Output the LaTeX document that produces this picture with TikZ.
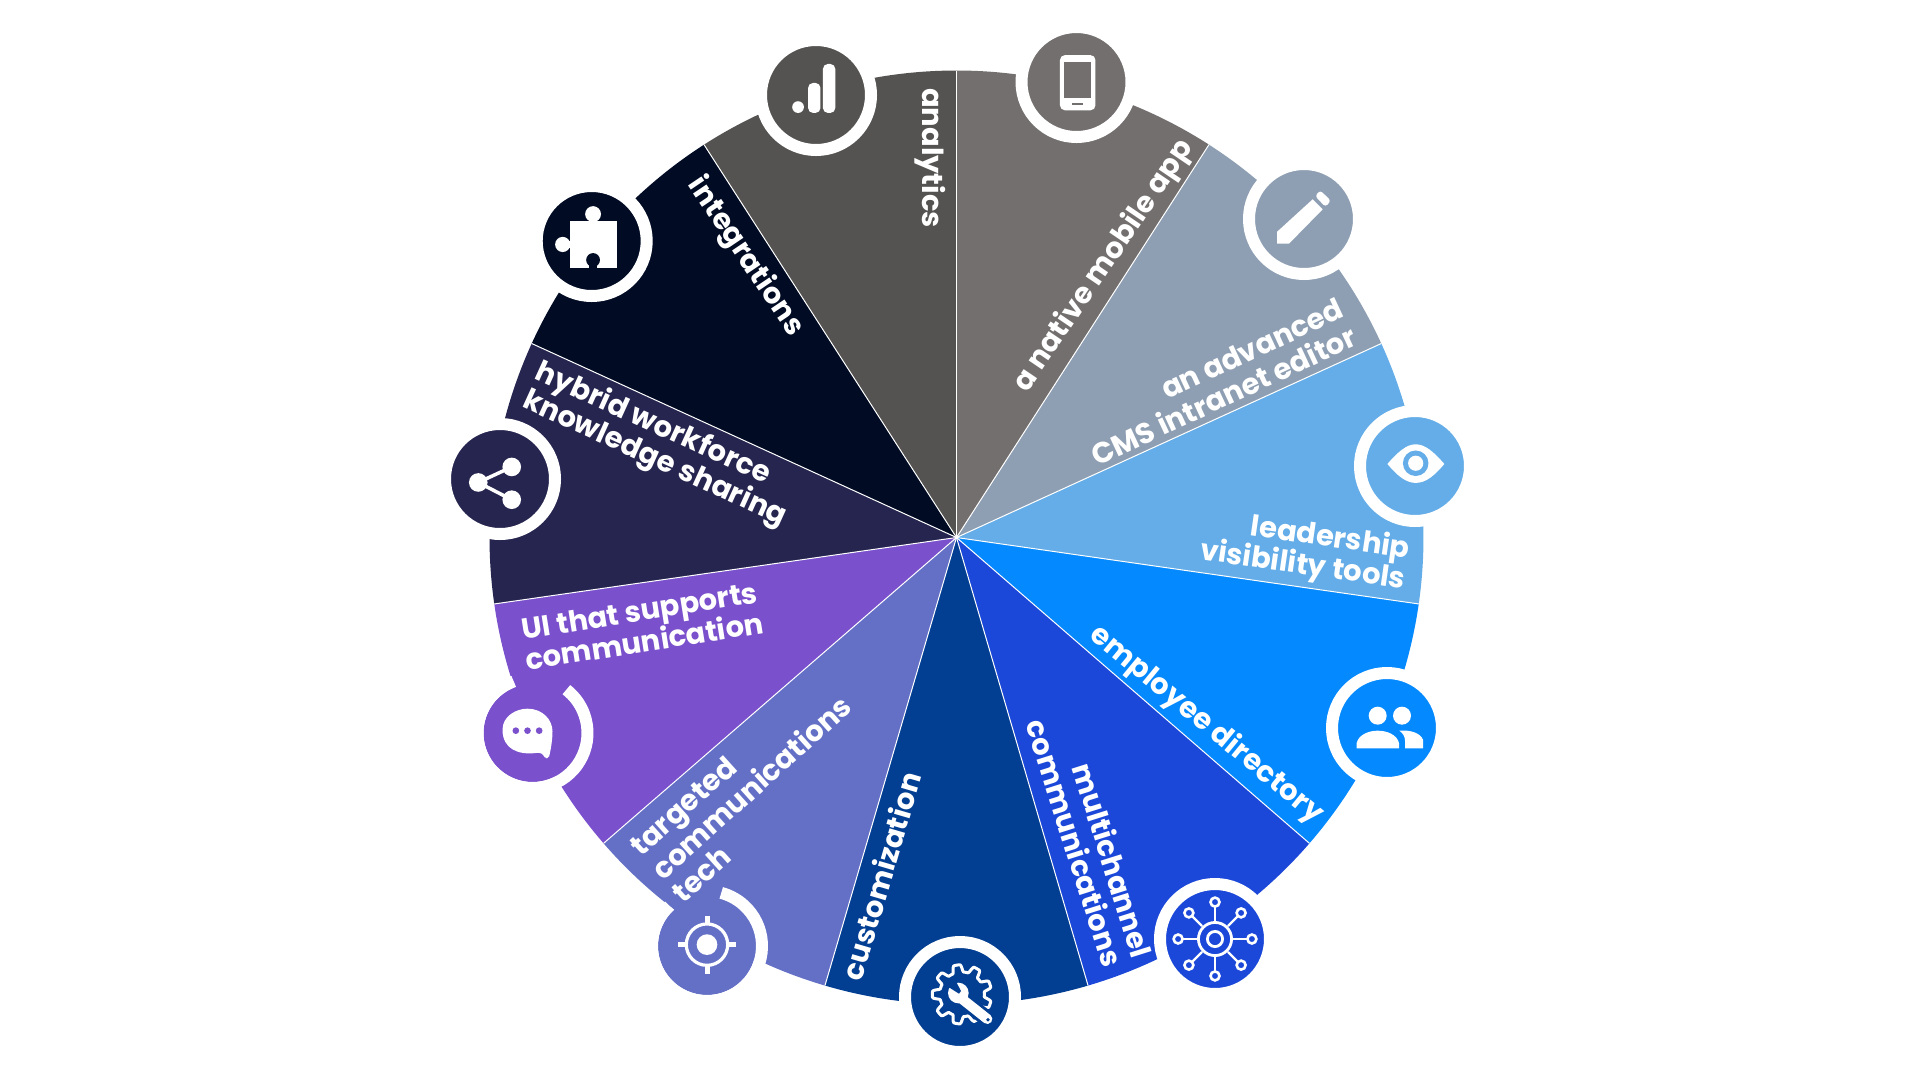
\documentclass[tikz,border=0pt]{standalone}
\usepackage{fontspec}
\setmainfont{Poppins}
\definecolor{cNat}{HTML}{736F6E}
\definecolor{cAdv}{HTML}{8F9FB3}
\definecolor{cLea}{HTML}{64ADE8}
\definecolor{cEmp}{HTML}{0589FF}
\definecolor{cMul}{HTML}{1B48D9}
\definecolor{cCus}{HTML}{023E92}
\definecolor{cTar}{HTML}{6370C6}
\definecolor{cUIi}{HTML}{7A50CC}
\definecolor{cHyb}{HTML}{26254F}
\definecolor{cInt}{HTML}{010B24}
\definecolor{cAna}{HTML}{545351}
\tikzset{
  lbl/.style={text=white,inner sep=0pt,font=\fontsize{29}{31}\selectfont\bfseries},
  ringed/.style={circle,draw=white,line width=12pt,minimum size=110pt,inner sep=0pt,fill=#1},
  plain/.style={circle,minimum size=98pt,inner sep=0pt,fill=#1},
  seam/.style={white,line width=1pt},
  ringarc/.style={white,line width=12pt},
  zA/.style={x=.345pt,y=-.345pt},
  zB/.style={x=.3333pt,y=-.3333pt}
}
\begin{document}
\begin{tikzpicture}[x=1pt,y=1pt]
\useasboundingbox (0,0) rectangle (1920,-1080);
\fill[white] (0,0) rectangle (1920,-1080);
\coordinate (wc) at (956.5,-537.5);
\def\stp{32.72727}
\foreach \i/\c in {0/cNat,1/cAdv,2/cLea,3/cEmp,4/cMul,5/cCus,6/cTar,7/cUIi,8/cHyb,9/cInt,10/cAna}{
  \pgfmathsetmacro{\aa}{90-\i*\stp}
  \pgfmathsetmacro{\bb}{90-(\i+1)*\stp}
  \fill[\c] (wc) -- ++(\aa:467) arc[start angle=\aa,end angle=\bb,radius=467pt] -- cycle;
}
\foreach \i in {0,...,10}{
  \pgfmathsetmacro{\aa}{90-\i*\stp}
  \draw[seam] (wc) -- ++(\aa:467);
}
% icon discs
\node[ringed=cNat] (iNat) at (1076.5,-82) {};
\node[ringed=cAdv] (iAdv) at (1304,-219) {};
\node[ringed=cLea] (iLea) at (1415,-466) {};
\node[ringed=cEmp] (iEmp) at (1387,-728) {};
\node[ringed=cMul] (iMul) at (1215,-939) {};
\node[ringed=cCus] (iCus) at (960,-997) {};
\node[ringed=cAna] (iAna) at (816,-95) {};
\node[ringed=cInt] (iInt) at (591.7,-241) {};
\node[ringed=cHyb] (iHyb) at (500,-479) {};
\node[plain=cTar] (iTar) at (707,-946) {};
\node[plain=cUIi] (iUIi) at (532.5,-733) {};
\draw[ringarc] (iUIi.center) ++(110:55) arc[start angle=110,end angle=412,radius=55pt];
\draw[ringarc] (iTar.center) ++(133:55) arc[start angle=133,end angle=435,radius=55pt];
% phone
\begin{scope}[shift={(iNat.center)},zA]
  \fill[white,rounded corners=5pt] (-48,-78) rectangle (55,82);
  \fill[cNat] (-36,-57) rectangle (43,45);
  \fill[cNat] (-13,60) rectangle (20,67);
\end{scope}
% pencil
\begin{scope}[shift={(iAdv.center)},zA]
  \fill[white] (-78,37) -- (25,-57) -- (54,-28) -- (-43,71) -- (-78,71) -- cycle;
  \fill[white,rounded corners=3pt] (32,-67) -- (47,-83) -- (78,-53) -- (62,-35) -- cycle;
\end{scope}
% eye
\begin{scope}[shift={(iLea.center)},zA]
  \fill[white] (-80,-6) .. controls (-50,-40) and (-25,-63) .. (2,-63) .. controls (30,-63) and (55,-40) .. (85,-6) .. controls (55,30) and (30,49) .. (2,49) .. controls (-25,49) and (-50,30) .. (-80,-6) -- cycle;
  \fill[cLea] (2,-8) circle (37);
  \fill[white] (2,-8) circle (22);
\end{scope}
% users
\begin{scope}[shift={(iEmp.center)},zB]
  \fill[white] (-28,-37) circle (27) (45,-37) circle (27);
  \fill[white] (-91,61) -- (-91,45) .. controls (-85,20) and (-55,8) .. (-28,8) .. controls (0,8) and (30,20) .. (36,45) -- (36,61) -- cycle;
  \fill[white] (37,8) .. controls (70,5) and (100,15) .. (108,35) -- (108,61) -- (54,61) -- (54,38) .. controls (54,25) and (47,15) .. (37,8) -- cycle;
\end{scope}
% network
\begin{scope}[shift={(iMul.center)},zA]
  \draw[white,line width=2.8pt] (0,0) circle (48);
  \draw[white,line width=2.8pt] (0,0) circle (22);
  \foreach \t in {0,45,...,315}{
    \draw[white,line width=2.4pt] (\t:53) -- (\t:92);
    \draw[white,line width=2.6pt] (\t:107) circle (13);
  }
\end{scope}
% gear
\begin{scope}[shift={(iCus.center)},zB]
  \begin{scope}[shift={(6,-8)}]
    \draw[white,line width=3pt,line join=round] plot[domain=0:360,samples=181] ({\x+10}:{78+11*max(-1,min(1,2.2*sin(9*\x)))}) -- cycle;
  \end{scope}
  \fill[cCus] (-5,-10) circle (42);
  \draw[cCus,line width=16pt,line cap=round] (5,5) -- (82,66);
  \draw[white,line width=10pt,line cap=round] (5,5) -- (82,66);
  \fill[white] (-5,-12) circle (31);
  \fill[cCus] (-38,-32) -- (-16,-54) -- (3,-18) -- (-3,-10) -- cycle;
  \fill[cCus] (84,68) circle (5.5);
\end{scope}
% target
\begin{scope}[shift={(iTar.center)},zA]
  \fill[white] (0,-4) circle (30);
  \draw[white,line width=3.2pt] (0,-4) circle (60);
  \foreach \t in {0,90,180,270}{
    \draw[white,line width=5pt] (0,-4) ++(\t:58) -- ++(\t:26);
  }
\end{scope}
% chat
\begin{scope}[shift={(iUIi.center)},zB]
  \fill[white] (-90,-10) .. controls (-90,-50) and (-50,-73) .. (-15,-73) .. controls (30,-73) and (60,-40) .. (60,-5) .. controls (60,20) and (55,50) .. (50,70) .. controls (47,78) and (40,78) .. (36,72) .. controls (30,62) and (25,58) .. (10,60) .. controls (-40,66) and (-90,50) .. (-90,-10) -- cycle;
  \fill[cUIi] (-50,-7) circle (10) (-15,-7) circle (10) (20,-7) circle (10);
\end{scope}
% share
\begin{scope}[shift={(iHyb.center)},zA]
  \draw[white,line width=3.5pt] (34,-35) -- (-63,10) -- (34,60);
  \fill[white] (34,-35) circle (27) (-63,10) circle (27) (34,60) circle (27);
\end{scope}
% puzzle
\begin{scope}[shift={(iInt.center)},zA]
  \fill[white] (-62,-58) rectangle (74,78);
  \fill[white] (4,-78) circle (23);
  \fill[white] (-8,-70) rectangle (16,-50);
  \fill[white] (-84,10) circle (22);
  \fill[white] (-70,0) rectangle (-55,20);
  \fill[cInt] (4,55) circle (20);
  \fill[cInt] (-8,55) rectangle (16,79);
\end{scope}
% analytics
\begin{scope}[shift={(iAna.center)},zA]
  \fill[white] (-52,35) circle (17);
  \fill[white,rounded corners=5pt] (-23,-35) rectangle (13,52);
  \fill[white,rounded corners=5pt] (20,-90) rectangle (56,52);
\end{scope}
% labels
\node[lbl,rotate=55.8] (tNat) at (1104,-266) {a native mobile app};
\node[lbl,rotate=25,align=right] (tAdv) at (1217,-382) {an advanced\\CMS intranet editor};
\node[lbl,rotate=-8.2,align=right] (tLea) at (1305,-551) {leadership\\visibility tools};
\node[lbl,rotate=-39.5] (tEmp) at (1206.5,-725) {employee directory};
\node[lbl,rotate=-72.5,align=right] (tMul) at (1090,-838) {multichannel\\communications};
\node[lbl,rotate=73.6] (tCus) at (881,-876) {customization};
\node[lbl,rotate=42,align=left] (tTar) at (751,-787) {targeted\\communications\\tech};
\node[lbl,rotate=9,align=center] (tUIi) at (642,-626) {UI that supports\\communication};
\node[lbl,rotate=-24.5,align=left] (tHyb) at (661,-445) {hybrid workforce\\knowledge sharing};
\node[lbl,rotate=-56] (tInt) at (745.5,-257) {integrations};
\node[lbl,rotate=-90] (tAna) at (930,-158) {analytics};
\end{tikzpicture}
\end{document}
